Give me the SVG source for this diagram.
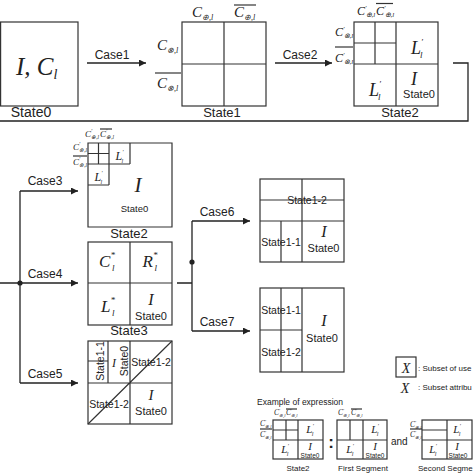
<svg xmlns="http://www.w3.org/2000/svg" width="474" height="474" viewBox="0 0 474 474">
<style>
.s{fill:none;stroke:#333;stroke-width:1.2}
.c{fill:none;stroke:#222;stroke-width:1.3}
.t{font-family:"Liberation Sans",Arial,sans-serif;fill:#222}
.m{font-family:"Liberation Serif","Times New Roman",serif;font-style:italic;fill:#222}
.mid{text-anchor:middle}
</style>
<defs>
<marker id="ah" markerWidth="8" markerHeight="8" refX="7" refY="3.5" orient="auto" markerUnits="userSpaceOnUse">
<path d="M0,0 L7,3.5 L0,7 z" fill="#222"/>
</marker>
</defs>
<rect x="0" y="0" width="474" height="474" fill="#fff"/>

<g id="connectors">
<path class="c" d="M87,63 H146" marker-end="url(#ah)"/>
<path class="c" d="M275,63 H332" marker-end="url(#ah)"/>
<path class="c" d="M453,63 H468 V121 H0"/>
<path class="c" d="M20,191 V383"/>
<path class="c" d="M20,191 H78" marker-end="url(#ah)"/>
<path class="c" d="M0,283 H78" marker-end="url(#ah)"/>
<path class="c" d="M20,383 H78" marker-end="url(#ah)"/>
<circle cx="20" cy="283" r="2.6" fill="#222"/>
<path class="c" d="M177,283 H192 M192,221 V331"/>
<path class="c" d="M192,221 H250" marker-end="url(#ah)"/>
<path class="c" d="M192,331 H250" marker-end="url(#ah)"/>
<circle cx="192" cy="262" r="2.6" fill="#222"/>
<text class="t mid" x="112" y="59" font-size="12">Case1</text>
<text class="t mid" x="300" y="59" font-size="12">Case2</text>
<text class="t mid" x="45" y="185" font-size="12">Case3</text>
<text class="t mid" x="45" y="278" font-size="12">Case4</text>
<text class="t mid" x="45" y="378" font-size="12">Case5</text>
<text class="t mid" x="217" y="216" font-size="12">Case6</text>
<text class="t mid" x="217" y="326" font-size="12">Case7</text>
</g>

<g id="state0-top">
<rect class="s" x="0.6" y="22" width="77.4" height="84"/>
<text class="m" x="16" y="75" font-size="25">I, C<tspan font-size="14" dy="4">l</tspan></text>
<text class="t mid" x="31" y="117" font-size="14">State0</text>
</g>

<g id="state1-top">
<rect class="s" x="182" y="22" width="84" height="84"/>
<path class="s" d="M224,22 V106 M182,64 H266"/>
<text class="m" x="192" y="17" font-size="15">C<tspan font-size="8" dy="3">⊕,l</tspan></text>
<text class="m" x="234" y="17" font-size="15">C<tspan font-size="8" dy="3">⊕,l</tspan></text>
<path class="s" d="M234,5 H256"/>
<text class="m" x="157" y="50" font-size="15">C<tspan font-size="8" dy="3">⊗,l</tspan></text>
<text class="m" x="157" y="88" font-size="15">C<tspan font-size="8" dy="3">⊗,l</tspan></text>
<path class="s" d="M155,73 H181"/>
<text class="t mid" x="222" y="117" font-size="13">State1</text>
</g>

<g id="state2-top">
<rect class="s" x="354" y="22" width="84" height="84"/>
<path class="s" d="M396,22 V106 M354,64 H438 M375,22 V64 M354,43 H396"/>
<text class="m" x="357" y="15" font-size="12">C<tspan font-size="7" dy="-5">′</tspan><tspan font-size="7" dx="-1" dy="7">⊕,l</tspan></text>
<text class="m" x="376" y="15" font-size="12">C<tspan font-size="7" dy="-5">′</tspan><tspan font-size="7" dx="-1" dy="7">⊕,l</tspan></text>
<path class="s" d="M376,3.5 H393"/>
<text class="m" x="335" y="36" font-size="12">C<tspan font-size="7" dy="-5">′</tspan><tspan font-size="7" dx="-1" dy="7">⊗,l</tspan></text>
<text class="m" x="335" y="62" font-size="12">C<tspan font-size="7" dy="-5">′</tspan><tspan font-size="7" dx="-1" dy="7">⊗,l</tspan></text>
<path class="s" d="M335,47 H353"/>
<text class="m mid" x="417" y="54" font-size="18">L<tspan font-size="9" dy="-9">′</tspan><tspan font-size="9" dx="-3" dy="13">l</tspan></text>
<text class="m mid" x="375" y="96" font-size="18">L<tspan font-size="9" dy="-9">′</tspan><tspan font-size="9" dx="-3" dy="13">l</tspan></text>
<text class="m mid" x="414" y="85" font-size="18">I</text>
<text class="t mid" x="419" y="98" font-size="11">State0</text>
<text class="t mid" x="400" y="117" font-size="13">State2</text>
</g>

<g id="state2-case3">
<path class="s" d="M88,143 H172 V227 H88 Z"/>
<path class="s" d="M98.5,143 V164 M109,143 V185 M130,143 V164 M88,153.5 H109 M88,164 H130 M88,185 H109"/>
<text class="m" x="85" y="137" font-size="9">C<tspan font-size="5.5" dy="-4">′</tspan><tspan font-size="5.5" dx="-1" dy="5.5">⊕,l</tspan></text>
<text class="m" x="100" y="137" font-size="9">C<tspan font-size="5.5" dy="-4">′</tspan><tspan font-size="5.5" dx="-1" dy="5.5">⊕,l</tspan></text>
<path class="s" d="M100,129 H112"/>
<text class="m" x="73" y="150" font-size="9">C<tspan font-size="5.5" dy="-4">′</tspan><tspan font-size="5.5" dx="-1" dy="5.5">⊗,l</tspan></text>
<text class="m" x="73" y="165" font-size="9">C<tspan font-size="5.5" dy="-4">′</tspan><tspan font-size="5.5" dx="-1" dy="5.5">⊗,l</tspan></text>
<path class="s" d="M73,156 H87"/>
<text class="m mid" x="119.5" y="160" font-size="12">L<tspan font-size="6" dy="-6">′</tspan><tspan font-size="6" dx="-2" dy="9">l</tspan></text>
<text class="m mid" x="98.5" y="181" font-size="12">L<tspan font-size="6" dy="-6">′</tspan><tspan font-size="6" dx="-2" dy="9">l</tspan></text>
<text class="m mid" x="138" y="192" font-size="21">I</text>
<text class="t mid" x="134.5" y="212" font-size="9.5">State0</text>
<text class="t mid" x="129" y="238" font-size="13">State2</text>
</g>

<g id="state3">
<rect class="s" x="88" y="242" width="84" height="83"/>
<path class="s" d="M130,242 V325 M88,283 H172"/>
<text class="m mid" x="107" y="267" font-size="17">C<tspan font-size="9" dy="-9">*</tspan><tspan font-size="9" dx="-3" dy="13">l</tspan></text>
<text class="m mid" x="150" y="267" font-size="17">R<tspan font-size="9" dy="-9">*</tspan><tspan font-size="9" dx="-3" dy="13">l</tspan></text>
<text class="m mid" x="108" y="312" font-size="17">L<tspan font-size="9" dy="-9">*</tspan><tspan font-size="9" dx="-3" dy="13">l</tspan></text>
<text class="m mid" x="151" y="305" font-size="16">I</text>
<text class="t mid" x="151" y="320" font-size="11">State0</text>
<text class="t mid" x="129" y="335" font-size="13">State3</text>
</g>

<g id="state-case5">
<rect class="s" x="88" y="341" width="84" height="83"/>
<path class="s" d="M130,341 V424 M88,383 H172 M108,341 V383 M88,361 H108 M88,424 L172,341"/>
<text class="t mid" font-size="10.5" transform="translate(103.5,361) rotate(-90)">State1-1</text>
<text class="m mid" x="114" y="367" font-size="12">I</text>
<text class="t mid" font-size="10.5" transform="translate(128,361) rotate(-90)">State0</text>
<text class="t mid" x="151" y="366" font-size="10.5">State1-2</text>
<text class="t mid" x="109" y="408" font-size="10.5">State1-2</text>
<text class="m mid" x="151" y="400" font-size="15">I</text>
<text class="t mid" x="151" y="415" font-size="11">State0</text>
</g>

<g id="state-case6">
<rect class="s" x="260" y="179" width="84" height="83"/>
<path class="s" d="M302,179 V262 M260,221 H344 M260,200 H344 M281,221 V262"/>
<text class="t mid" x="307" y="204" font-size="10.5">State1-2</text>
<text class="t mid" x="281" y="246" font-size="10.5">State1-1</text>
<text class="m mid" x="324" y="237" font-size="16">I</text>
<text class="t mid" x="323.5" y="252" font-size="11">State0</text>
</g>

<g id="state-case7">
<rect class="s" x="260" y="288" width="84" height="84"/>
<path class="s" d="M281,288 V372 M302,288 V372 M260,330 H302"/>
<text class="t mid" x="281" y="314" font-size="10.5">State1-1</text>
<text class="t mid" x="281" y="356" font-size="10.5">State1-2</text>
<text class="m mid" x="324" y="326" font-size="16">I</text>
<text class="t mid" x="322" y="342" font-size="11">State0</text>
</g>

<g id="legend">
<rect class="s" x="396" y="357" width="20" height="20"/>
<text class="m mid" x="406" y="373" font-size="14">X</text>
<text class="t" x="418" y="371" font-size="8">: Subset of use</text>
<text class="m mid" x="405" y="393" font-size="14">X</text>
<text class="t" x="418" y="390" font-size="8">: Subset attribu</text>
</g>

<g id="example">
<text class="t" x="257" y="405" font-size="8.5">Example of expression</text>
<g id="ex-state2">
<rect class="s" x="273" y="420" width="50" height="39"/>
<path class="s" d="M298,420 V459 M273,440 H323 M286,420 V440 M273,430 H298"/>
<text class="m" x="274" y="415" font-size="7.5">C<tspan font-size="4.5" dy="-3.5">′</tspan><tspan font-size="4.5" dx="-1" dy="5">⊕,l</tspan></text>
<text class="m" x="286" y="415" font-size="7.5">C<tspan font-size="4.5" dy="-3.5">′</tspan><tspan font-size="4.5" dx="-1" dy="5">⊕,l</tspan></text>
<path class="s" d="M286,409 H297" stroke-width="0.8"/>
<text class="m" x="260" y="426" font-size="7.5">C<tspan font-size="4.5" dy="-3.5">′</tspan><tspan font-size="4.5" dx="-1" dy="5">⊗,l</tspan></text>
<text class="m" x="260" y="437" font-size="7.5">C<tspan font-size="4.5" dy="-3.5">′</tspan><tspan font-size="4.5" dx="-1" dy="5">⊗,l</tspan></text>
<path class="s" d="M260,429 H272" stroke-width="0.8"/>
<text class="m mid" x="310" y="433" font-size="11">L<tspan font-size="6" dy="-5">′</tspan><tspan font-size="6" dx="-2" dy="8">l</tspan></text>
<text class="m mid" x="285" y="453" font-size="11">L<tspan font-size="6" dy="-5">′</tspan><tspan font-size="6" dx="-2" dy="8">l</tspan></text>
<text class="m mid" x="310" y="450" font-size="11">I</text>
<text class="t mid" x="310" y="458" font-size="6.5">State0</text>
<text class="t mid" x="298" y="471" font-size="8">State2</text>
</g>
<text class="t mid" x="331" y="448" font-size="17" font-weight="bold">:</text>
<g id="ex-first">
<rect class="s" x="337" y="420" width="50" height="39"/>
<path class="s" d="M363,420 V459 M337,440 H387 M350,420 V440"/>
<text class="m" x="338" y="415" font-size="7.5">C<tspan font-size="4.5" dy="-3.5">′</tspan><tspan font-size="4.5" dx="-1" dy="5">⊕,l</tspan></text>
<text class="m" x="351" y="415" font-size="7.5">C<tspan font-size="4.5" dy="-3.5">′</tspan><tspan font-size="4.5" dx="-1" dy="5">⊕,l</tspan></text>
<path class="s" d="M351,409 H362" stroke-width="0.8"/>
<text class="m mid" x="375" y="433" font-size="11">L<tspan font-size="6" dy="-5">′</tspan><tspan font-size="6" dx="-2" dy="8">l</tspan></text>
<text class="m mid" x="350" y="453" font-size="11">L<tspan font-size="6" dy="-5">′</tspan><tspan font-size="6" dx="-2" dy="8">l</tspan></text>
<text class="m mid" x="375" y="450" font-size="11">I</text>
<text class="t mid" x="375" y="458" font-size="6.5">State0</text>
<text class="t mid" x="363" y="471" font-size="8">First Segment</text>
</g>
<text class="t" x="391" y="445" font-size="10">and</text>
<g id="ex-second">
<rect class="s" x="422" y="420" width="50" height="39"/>
<path class="s" d="M447,420 V459 M422,440 H472 M422,430 H447"/>
<text class="m" x="410" y="427" font-size="7.5">C<tspan font-size="4.5" dy="-3.5">′</tspan><tspan font-size="4.5" dx="-1" dy="5">⊗,l</tspan></text>
<text class="m" x="410" y="437" font-size="7.5">C<tspan font-size="4.5" dy="-3.5">′</tspan><tspan font-size="4.5" dx="-1" dy="5">⊗,l</tspan></text>
<path class="s" d="M410,429 H422" stroke-width="0.8"/>
<text class="m mid" x="457" y="433" font-size="11">L<tspan font-size="6" dy="-5">′</tspan><tspan font-size="6" dx="-2" dy="8">l</tspan></text>
<text class="m mid" x="433" y="453" font-size="11">L<tspan font-size="6" dy="-5">′</tspan><tspan font-size="6" dx="-2" dy="8">l</tspan></text>
<text class="m mid" x="457" y="450" font-size="11">I</text>
<text class="t mid" x="458" y="458" font-size="6.5">State0</text>
<text class="t" x="418" y="471" font-size="8">Second Segme</text>
</g>
</g>
</svg>
